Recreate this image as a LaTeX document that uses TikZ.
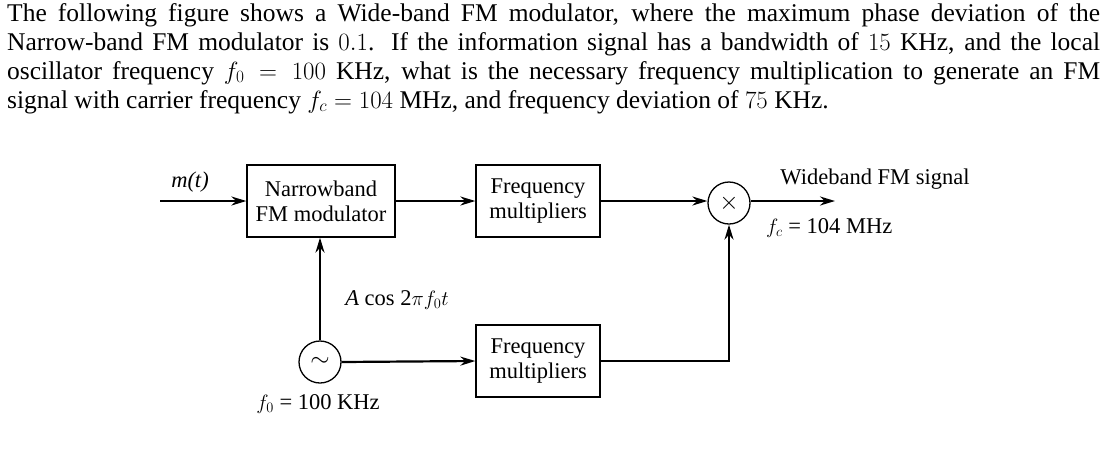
\documentclass[tikz,border=0pt]{standalone}
\usepackage{fontspec}
\setmainfont{Liberation Serif}
\usetikzlibrary{arrows.meta}
\begin{document}
\begin{tikzpicture}[x=1pt,y=-1pt,
  blk/.style={draw,line width=1.3pt,minimum width=148pt,minimum height=72pt,inner sep=0pt,align=center,font=\fontsize{22.5}{25}\selectfont},
  blk2/.style={blk,minimum width=124pt,minimum height=72pt},
  circ/.style={draw,circle,line width=1.3pt,minimum size=42pt,inner sep=0pt},
  con/.style={line width=2.2pt,-{Stealth[length=15pt,width=9pt]}},
  lbl/.style={font=\fontsize{22.5}{25}\selectfont,inner sep=0pt}]
\useasboundingbox (0,0) rectangle (1107,448);
\node[anchor=north west,inner sep=0pt] (para) at (7,3) {\begin{minipage}{1093pt}\fontsize{25.5}{29}\selectfont\sloppy
The following figure shows a Wide-band FM modulator, where the maximum phase deviation of the\linebreak
Narrow-band FM modulator is $0.1$. If the information signal has a bandwidth of $15$ KHz, and the local\linebreak
oscillator frequency $f_0 = 100$ KHz, what is the necessary frequency multiplication to generate an FM\linebreak
signal with carrier frequency $f_c = 104$ MHz, and frequency deviation of $75$ KHz.\end{minipage}};
\node[blk] (nb) at (321,201) {Narrowband\\FM modulator};
\node[blk2] (fm1) at (538,201) {Frequency\\multipliers};
\node[blk2] (fm2) at (538,361) {Frequency\\multipliers};
\node[circ] (mix) at (729,203) {\fontsize{26}{26}\selectfont$\times$};
\node[circ] (osc) at (320,362) {\fontsize{30}{30}\selectfont$\sim$};
\coordinate (in) at (160,201);
\coordinate (out) at (835,201);
\coordinate (corner) at (729,361);
\node[lbl] (mt) at (190,182) {\itshape m(t)};
\node[lbl] (wb) at (875,179) {Wideband FM signal};
\node[lbl,anchor=west] (fc) at (766,228) {$f_c$ = 104 MHz};
\node[lbl] (acos) at (397,300) {\itshape A \upshape cos 2$\pi f_0t$};
\node[lbl] (f0) at (318,404) {$f_0$ = 100 KHz};
\draw[con] (in) -- (nb.west);
\draw[con] (nb.east) -- (fm1.west);
\draw[con] (fm1.east) -- (mix.west |- fm1.east);
\draw[con] (mix.east |- fm1.east) -- (out);
\draw[con] (osc.north) -- (nb.south -| osc.north);
\draw[con] (osc.east) -- (fm2.west);
\draw[con] (fm2.east) -- (corner) -- (mix.south);
\end{tikzpicture}
\end{document}
